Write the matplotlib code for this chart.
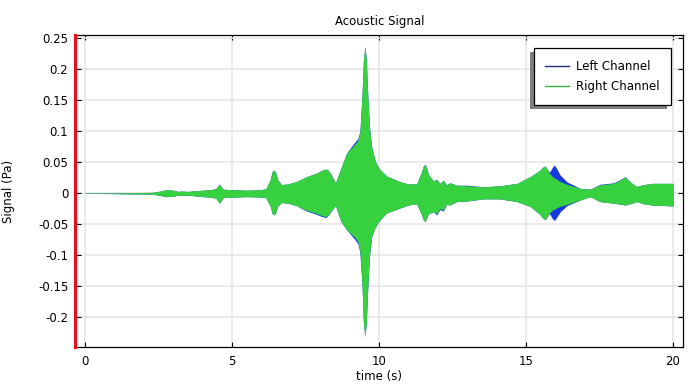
import matplotlib
matplotlib.use('Agg')
import matplotlib.pyplot as plt
from matplotlib.lines import Line2D
from matplotlib.patches import Rectangle
from matplotlib.transforms import IdentityTransform

# envelope of the oscillating signals
t_env = [0.0, 1.0, 1.5, 2.3, 2.55, 2.75, 3.0, 3.15, 3.3, 3.5,
         3.9, 4.3, 4.45, 4.57, 4.7, 4.9, 5.2, 5.5, 5.9, 6.15,
         6.3, 6.36, 6.42, 6.48, 6.55, 6.68, 6.9, 7.2, 7.5, 7.9,
         8.05, 8.2, 8.28, 8.35, 8.52, 8.7, 8.9, 9.15, 9.28, 9.35,
         9.42, 9.47, 9.52, 9.57, 9.62, 9.68, 9.75, 9.87, 10.0, 10.25,
         10.7, 11.0, 11.28, 11.45, 11.5, 11.56, 11.62, 11.68, 11.85, 11.96,
         12.07, 12.19, 12.3, 12.41, 12.64, 13.0, 13.55, 14.1, 14.7, 15.15,
         15.47, 15.57, 15.65, 15.72, 15.8, 15.9, 15.96, 16.03, 16.16, 16.39,
         16.84, 17.18, 17.52, 17.97, 18.2, 18.37, 18.55, 18.76, 19.0, 19.3,
         20.0]

right_upper = [0.0003, 0.0006, 0.0010, 0.0015, 0.0035, 0.0055, 0.0050, 0.0030, 0.0035, 0.0030,
               0.0045, 0.0060, 0.0075, 0.0150, 0.0065, 0.0060, 0.0055, 0.0050, 0.0055, 0.0070,
               0.0220, 0.0340, 0.0375, 0.0340, 0.0220, 0.0140, 0.0150, 0.0190, 0.0260, 0.0330,
               0.0370, 0.0390, 0.0370, 0.0320, 0.0170, 0.0400, 0.0650, 0.0780, 0.0850, 0.0980,
               0.1550, 0.2150, 0.2370, 0.2150, 0.1550, 0.1050, 0.0750, 0.0520, 0.0400, 0.0280,
               0.0190, 0.0150, 0.0150, 0.0350, 0.0430, 0.0470, 0.0410, 0.0300, 0.0200, 0.0225,
               0.0160, 0.0210, 0.0135, 0.0170, 0.0130, 0.0120, 0.0105, 0.0120, 0.0160, 0.0270,
               0.0370, 0.0420, 0.0440, 0.0390, 0.0320, 0.0270, 0.0250, 0.0230, 0.0190, 0.0145,
               0.0080, 0.0065, 0.0135, 0.0160, 0.0210, 0.0260, 0.0180, 0.0110, 0.0140, 0.0160,
               0.0160]
right_lower = [-0.0003, -0.0006, -0.0010, -0.0015, -0.0035, -0.0055, -0.0050, -0.0030, -0.0035, -0.0030,
               -0.0050, -0.0065, -0.0080, -0.0160, -0.0070, -0.0065, -0.0060, -0.0055, -0.0060, -0.0070,
               -0.0210, -0.0320, -0.0350, -0.0320, -0.0210, -0.0150, -0.0160, -0.0200, -0.0270, -0.0330,
               -0.0360, -0.0380, -0.0350, -0.0300, -0.0200, -0.0450, -0.0590, -0.0700, -0.0780, -0.0930,
               -0.1450, -0.2100, -0.2310, -0.2080, -0.1500, -0.1000, -0.0700, -0.0550, -0.0450, -0.0320,
               -0.0240, -0.0190, -0.0170, -0.0350, -0.0420, -0.0460, -0.0400, -0.0330, -0.0300, -0.0330,
               -0.0250, -0.0270, -0.0180, -0.0190, -0.0135, -0.0125, -0.0090, -0.0090, -0.0135, -0.0215,
               -0.0340, -0.0400, -0.0430, -0.0380, -0.0320, -0.0270, -0.0260, -0.0240, -0.0210, -0.0180,
               -0.0110, -0.0055, -0.0135, -0.0160, -0.0175, -0.0190, -0.0170, -0.0135, -0.0170, -0.0190,
               -0.0205]

left_upper = [0.0003, 0.0006, 0.0010, 0.0015, 0.0035, 0.0055, 0.0050, 0.0030, 0.0035, 0.0030,
              0.0045, 0.0060, 0.0075, 0.0150, 0.0065, 0.0060, 0.0055, 0.0050, 0.0055, 0.0070,
              0.0220, 0.0340, 0.0375, 0.0340, 0.0220, 0.0140, 0.0150, 0.0190, 0.0260, 0.0330,
              0.0370, 0.0390, 0.0370, 0.0320, 0.0170, 0.0400, 0.0650, 0.0810, 0.0880, 0.1000,
              0.1550, 0.2150, 0.2370, 0.2150, 0.1550, 0.1050, 0.0750, 0.0520, 0.0400, 0.0280,
              0.0190, 0.0150, 0.0150, 0.0350, 0.0430, 0.0470, 0.0410, 0.0300, 0.0200, 0.0225,
              0.0160, 0.0210, 0.0135, 0.0170, 0.0130, 0.0130, 0.0105, 0.0120, 0.0160, 0.0270,
              0.0370, 0.0420, 0.0440, 0.0390, 0.0340, 0.0420, 0.0455, 0.0410, 0.0295, 0.0185,
              0.0080, 0.0065, 0.0145, 0.0168, 0.0218, 0.0268, 0.0180, 0.0110, 0.0140, 0.0160,
              0.0160]
left_lower = [-0.0003, -0.0006, -0.0010, -0.0015, -0.0035, -0.0055, -0.0050, -0.0030, -0.0035, -0.0030,
              -0.0050, -0.0065, -0.0080, -0.0160, -0.0070, -0.0065, -0.0060, -0.0055, -0.0060, -0.0070,
              -0.0210, -0.0320, -0.0350, -0.0320, -0.0210, -0.0150, -0.0160, -0.0200, -0.0280, -0.0345,
              -0.0375, -0.0392, -0.0350, -0.0300, -0.0200, -0.0450, -0.0590, -0.0730, -0.0810, -0.0960,
              -0.1450, -0.2100, -0.2310, -0.2080, -0.1500, -0.1000, -0.0700, -0.0550, -0.0450, -0.0320,
              -0.0240, -0.0190, -0.0170, -0.0350, -0.0420, -0.0460, -0.0400, -0.0330, -0.0300, -0.0350,
              -0.0265, -0.0285, -0.0180, -0.0190, -0.0135, -0.0125, -0.0090, -0.0090, -0.0135, -0.0215,
              -0.0340, -0.0400, -0.0430, -0.0380, -0.0330, -0.0410, -0.0440, -0.0400, -0.0300, -0.0200,
              -0.0110, -0.0055, -0.0135, -0.0160, -0.0175, -0.0190, -0.0170, -0.0135, -0.0170, -0.0190,
              -0.0205]

x_ticks = [0, 5, 10, 15, 20]
y_ticks = [0.25, 0.2, 0.15, 0.1, 0.05, 0, -0.05, -0.1, -0.15, -0.2]
y_tick_labels = ['0.25', '0.2', '0.15', '0.1', '0.05', '0', '-0.05', '-0.1', '-0.15', '-0.2']

blue = '#1538e0'
green = '#37d03f'

fig = plt.figure(figsize=(6.9, 3.88), dpi=100)
ax = fig.add_axes([76/690, 41/388, 607/690, 312/388])

ax.fill_between(t_env, left_lower, left_upper, color=blue, lw=0, zorder=2)
ax.fill_between(t_env, right_lower, right_upper, color=green, lw=0, zorder=2.1)

ax.set_xlim(-0.306, 20.34)
ax.set_ylim(-0.248, 0.2553)
ax.set_xticks(x_ticks)
ax.set_yticks(y_ticks)
ax.set_yticklabels(y_tick_labels)
ax.grid(True, color='#e6e6e6', lw=1.2, zorder=0)
ax.set_axisbelow(True)
ax.tick_params(direction='in', top=True, right=True, length=3.5, width=0.8,
               labelsize=8.5, pad=5.5, colors='black')
for s in ax.spines.values():
    s.set_linewidth(0.9)

# red marker line on the left edge
ax.axvline(-0.35, color='#e3101e', lw=2.2, clip_on=False, zorder=3)

ax.set_title('Acoustic Signal', fontsize=8.5, pad=7)
ax.set_xlabel('time (s)', fontsize=8.5, labelpad=2)
ax.set_ylabel('Signal (Pa)', fontsize=8.5)
ax.yaxis.set_label_coords(-0.1, 0.5)

handles = [Line2D([], [], color='#1f3070', lw=1.0),
           Line2D([], [], color='#3cb043', lw=1.0)]
leg = ax.legend(handles, ['Left Channel', 'Right Channel'], loc='upper right',
                bbox_to_anchor=(671/690, 340/388), bbox_transform=fig.transFigure,
                borderaxespad=0, fancybox=False, framealpha=1, edgecolor='black',
                fontsize=8.5, borderpad=1.0, labelspacing=0.6, handletextpad=0.55,
                handlelength=2.0)
leg.get_frame().set_linewidth(0.9)
leg.set_zorder(6)

# shadow offset to the lower left, like the original
fig.canvas.draw()
bb = leg.get_window_extent()
ax.add_patch(Rectangle((bb.x0 - 4, bb.y0 - 4), bb.width, bb.height,
                       transform=IdentityTransform(), facecolor='#7f7f7f',
                       edgecolor='none', clip_on=False, zorder=5.5))

fig.savefig('out.png', dpi=100)
